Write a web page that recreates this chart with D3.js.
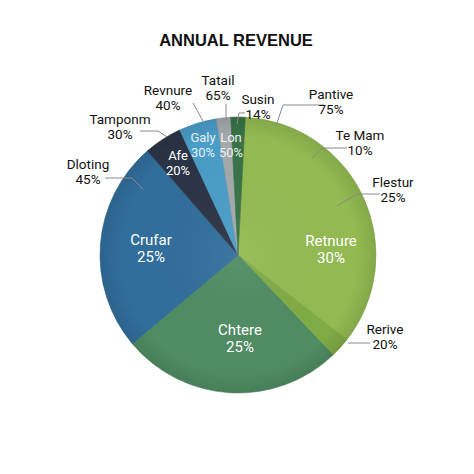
<!DOCTYPE html>
<html><head><meta charset="utf-8">
<script src="https://cdn.jsdelivr.net/npm/d3@7"></script>
<style>html,body{margin:0;padding:0;background:#fff;}svg{display:block;font-family:Roboto,"Liberation Sans",sans-serif;}</style>
</head><body>
<svg id="c" width="474" height="474"></svg>
<script>
// slices (clockwise from top), values as share of the circle
const sliceNames = ["Retnure","Rerive","Chtere","Crufar","Afe","Galy","Lon","Susin"];
const sliceValues = [125, 8.5, 93.5, 89, 16, 16, 6, 6];
const sliceColors = ["#93bb52","#80ac46","#4f8c63","#316e9c","#2b3446","#4a9dc8","#a4a9ac","#397347"];
// labels drawn inside slices
const innerLabels = [
  {name:"Retnure", pct:"30%"},
  {name:"Chtere", pct:"25%"},
  {name:"Crufar", pct:"25%"},
  {name:"Afe", pct:"20%"},
  {name:"Galy", pct:"30%"},
  {name:"Lon", pct:"50%"}
];
// callout labels outside the pie
const outerNames = ["Revnure","Tatail","Susin","Pantive","Te Mam","Flestur","Rerive","Tamponm","Dloting"];
const outerPcts  = ["40%","65%","14%","75%","10%","25%","20%","30%","45%"];

const svg = d3.select("#c");
const cx = 238, cy = 255, R = 138;

svg.append("text").attr("x", 236).attr("y", 46).attr("text-anchor","middle")
  .attr("font-size", 16.5).attr("font-weight", "bold").attr("fill","#111")
  .attr("font-family","'Liberation Sans',Arial,sans-serif")
  .text("ANNUAL REVENUE");

const defs = svg.append("defs");
const rg = defs.append("radialGradient").attr("id","shade").attr("cx","50%").attr("cy","50%").attr("r","50%");
rg.append("stop").attr("offset","0%").attr("stop-color","#fff").attr("stop-opacity",0.06);
rg.append("stop").attr("offset","85%").attr("stop-color","#000").attr("stop-opacity",0);
rg.append("stop").attr("offset","100%").attr("stop-color","#000").attr("stop-opacity",0.10);

const deg = Math.PI/180;
const pie = d3.pie().sort(null).value(d => d.v).startAngle(3*deg).endAngle(363*deg);
const data = sliceNames.map((n,i)=>({n, v:sliceValues[i], c:sliceColors[i]}));
const arcs = pie(data);
const arc = d3.arc().innerRadius(0).outerRadius(R);

const g = svg.append("g").attr("transform",`translate(${cx},${cy})`);
g.selectAll("path.s").data(arcs).join("path").attr("class","s")
  .attr("d", arc).attr("fill", d=>d.data.c)
  .attr("stroke", d=>d3.color(d.data.c).darker(0.25)).attr("stroke-width",0.6);
g.append("circle").attr("r",R).attr("fill","url(#shade)");

// inner label positions (relative to centre)
const innerPos = {Retnure:[93,-9], Chtere:[2,80], Crufar:[-87,-10], Afe:[-60,-95], Galy:[-35,-113], Lon:[-7,-113]};
const innerSize = {Retnure:15, Chtere:15, Crufar:15, Afe:13, Galy:13, Lon:13};
const innerFill = {Galy:"#e3f1f8", Lon:"#eef0f2"};
innerLabels.forEach(l=>{
  const [x,y] = innerPos[l.name];
  const fs = innerSize[l.name];
  const t = g.append("text").attr("text-anchor","middle").attr("font-size",fs)
    .attr("fill", innerFill[l.name] || "#fff");
  t.append("tspan").attr("x",x).attr("y",y).text(l.name);
  t.append("tspan").attr("x",x).attr("y",y+fs*1.12).text(l.pct);
});

// outer callouts: label centre/baseline & leader polylines (absolute)
const outerPos = [[168,95],[218,85],[258,104],[331,99],[360,140],[393,187],[385,334],[120,124],[88,169]];
const leaders = [
  [[193,103],[203,121]],
  [[226,104],[226,121]],
  [[245,113],[239,113],[237,124]],
  [[324,105],[283,105],[276,126]],
  [[347,148],[323,148],[312,158]],
  [[380,194],[357,194],[337,206]],
  [[370,343],[348,343]],
  [[140,131],[158,131],[167,137]],
  [[105,178],[132,178],[143,189]]
];
const line = d3.line();
svg.selectAll("path.ld").data(leaders).join("path").attr("class","ld")
  .attr("d", d=>line(d)).attr("fill","none").attr("stroke","#8a8a8a").attr("stroke-width",1);
outerNames.forEach((n,i)=>{
  const [x,y] = outerPos[i];
  const t = svg.append("text").attr("text-anchor","middle").attr("font-size",13.5).attr("fill","#111");
  t.append("tspan").attr("x",x).attr("y",y).text(n);
  t.append("tspan").attr("x",x).attr("y",y+15).text(outerPcts[i]);
});
</script>
</body></html>
